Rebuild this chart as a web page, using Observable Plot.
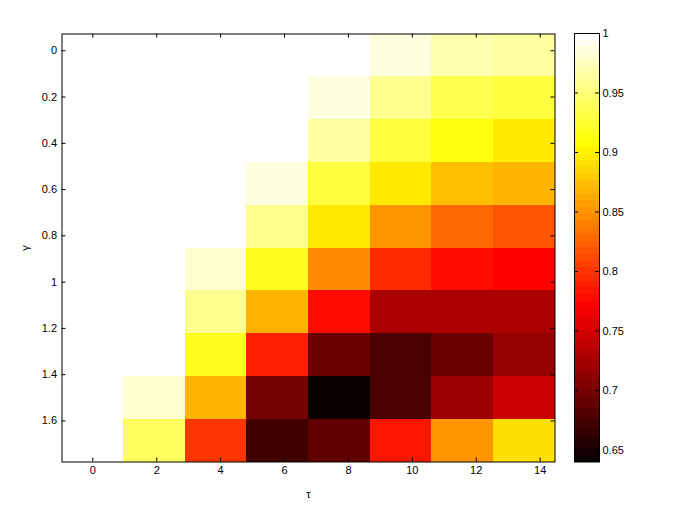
<!DOCTYPE html>
<html>
<head>
<meta charset="utf-8">
<script src="https://cdn.jsdelivr.net/npm/d3@7"></script>
<script src="https://cdn.jsdelivr.net/npm/@observablehq/plot@0.6"></script>
<style>
  html, body { margin: 0; padding: 0; background: #fff; }
  #wrap { position: relative; width: 676px; height: 516px; }
  #wrap svg { position: absolute; left: 0; top: 0; background: transparent; }
</style>
</head>
<body>
<div id="wrap"></div>
<script>
// τ (columns) and γ (rows) cell centres
const tau = [0, 1.93, 3.86, 5.79, 7.71, 9.64, 11.57, 13.5];
const gamma = [0.02, 0.205, 0.39, 0.575, 0.76, 0.945, 1.13, 1.315, 1.5, 1.685];
// values: one row per γ, one column per τ
const values = [
  [1, 1, 1, 1, 1, 0.987, 0.970, 0.962],
  [1, 1, 1, 1, 0.988, 0.960, 0.935, 0.928],
  [1, 1, 1, 1, 0.966, 0.928, 0.912, 0.896],
  [1, 1, 1, 0.985, 0.930, 0.894, 0.875, 0.867],
  [1, 1, 1, 0.956, 0.894, 0.852, 0.830, 0.820],
  [1, 1, 0.983, 0.921, 0.847, 0.794, 0.777, 0.773],
  [1, 1, 0.958, 0.870, 0.775, 0.730, 0.725, 0.727],
  [1, 1, 0.921, 0.791, 0.695, 0.677, 0.695, 0.714],
  [1, 0.983, 0.870, 0.698, 0.640, 0.674, 0.722, 0.746],
  [1, 0.943, 0.798, 0.669, 0.690, 0.786, 0.852, 0.892]
];
const xTicks = [0, 2, 4, 6, 8, 10, 12, 14];
const yTicks = [0, 0.2, 0.4, 0.6, 0.8, 1, 1.2, 1.4, 1.6];
const cTicks = [0.65, 0.7, 0.75, 0.8, 0.85, 0.9, 0.95, 1];
const cmin = 0.64, cmax = 1;

// MATLAB "hot" colormap with 64 entries
function hot(t) {
  const i = Math.max(0, Math.min(63, Math.floor(t * 64))) + 1;
  const r = Math.min(1, i / 24);
  const g = Math.max(0, Math.min(1, (i - 24) / 24));
  const b = Math.max(0, Math.min(1, (i - 48) / 16));
  return `rgb(${Math.round(r * 255)},${Math.round(g * 255)},${Math.round(b * 255)})`;
}

const dx = tau[1] - tau[0];
const dy = gamma[1] - gamma[0];
const cells = [];
values.forEach((row, i) => row.forEach((v, j) => {
  cells.push({x1: tau[j] - dx / 2, x2: tau[j] + dx / 2, y1: gamma[i] - dy / 2, y2: gamma[i] + dy / 2, v});
}));

const font = {fontFamily: "'Liberation Sans', Arial, sans-serif", fontSize: "11px", color: "#000", background: "transparent"};
const mT = 33.5, mB = 54.5, mL = 61.5, mR = 121.5;
const W = 676 - mL - mR, H = 516 - mT - mB;
const fmt = d => String(+d.toFixed(2));
const colorOpts = {type: "linear", domain: [cmin, cmax], interpolate: hot};

const main = Plot.plot({
  width: 676, height: 516,
  marginTop: mT, marginBottom: mB, marginLeft: mL, marginRight: mR,
  style: font,
  x: {domain: [tau[0] - dx / 2, tau[tau.length - 1] + dx / 2]},
  y: {domain: [gamma[0] - dy / 2, gamma[gamma.length - 1] + dy / 2], reverse: true},
  color: colorOpts,
  marks: [
    Plot.rect(cells, {x1: "x1", x2: "x2", y1: "y1", y2: "y2", fill: "v", shapeRendering: "crispEdges"}),
    Plot.tickX(xTicks, {x: d => d, insetTop: H - 4, stroke: "#000"}),
    Plot.tickX(xTicks, {x: d => d, insetBottom: H - 4, stroke: "#000"}),
    Plot.tickY(yTicks, {y: d => d, insetRight: W - 4, stroke: "#000"}),
    Plot.tickY(yTicks, {y: d => d, insetLeft: W - 4, stroke: "#000"}),
    Plot.frame({stroke: "#000"}),
    Plot.axisX(xTicks, {tickSize: 0, tickPadding: 4, tickFormat: fmt, label: "τ", labelAnchor: "center", labelArrow: "none", labelOffset: 36}),
    Plot.axisY(yTicks, {tickSize: 0, tickPadding: 5, tickFormat: fmt, label: "γ", labelAnchor: "center", labelArrow: "none", labelOffset: 41})
  ]
});

// colour bar
const nb = 64, step = (cmax - cmin) / nb;
const bands = d3.range(nb).map(k => ({lo: cmin + k * step, hi: cmin + (k + 1) * step, mid: cmin + (k + 0.5) * step}));
const cbL = 574, cbR = 599, cbW = cbR - cbL;
const bar = Plot.plot({
  width: 676, height: 516,
  marginTop: 33, marginBottom: mB, marginLeft: cbL, marginRight: 676 - cbR,
  style: font,
  y: {domain: [cmin, cmax]},
  color: colorOpts,
  marks: [
    Plot.rect(bands, {y1: "lo", y2: "hi", fill: "mid", shapeRendering: "crispEdges"}),
    Plot.tickY(cTicks, {y: d => d, insetRight: cbW - 4, stroke: "#000"}),
    Plot.tickY(cTicks, {y: d => d, insetLeft: cbW - 4, stroke: "#000"}),
    Plot.frame({stroke: "#000"}),
    Plot.axisY(cTicks, {anchor: "right", tickSize: 0, tickPadding: 3, tickFormat: fmt, label: null})
  ]
});

const wrap = document.getElementById("wrap");
wrap.appendChild(main);
wrap.appendChild(bar);
</script>
</body>
</html>
